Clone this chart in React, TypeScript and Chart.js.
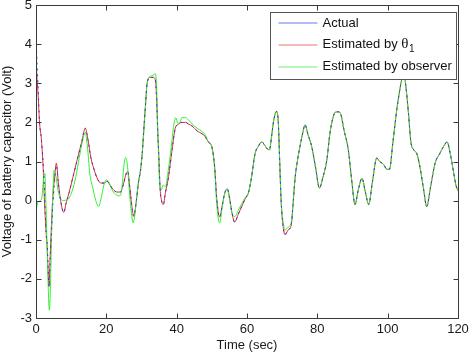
import { useEffect, useRef } from "react";
import { Chart, registerables } from "chart.js";

Chart.register(...registerables);

// ---- data ----
const actualTime = [
  0, 0.3, 0.6, 1.0, 1.5, 2.0, 2.4, 2.7, 3.0, 3.2,
  3.4, 3.7, 4.0, 4.4, 4.8, 5.2, 5.8, 6.3, 7.0, 7.9,
  8.6, 9.4, 10.5, 11.7, 13.0, 14.0, 14.8, 15.6, 16.5, 17.5,
  18.5, 19.5, 20.2, 21.0, 22.0, 23.0, 24.0, 24.8, 25.5, 26.1,
  26.6, 27.2, 27.8, 28.4, 29.2, 29.7, 30.2, 30.6, 31.1, 31.6,
  32.5, 33.3, 33.9, 34.3, 34.6, 34.9, 35.3, 35.7, 36.2, 36.8,
  37.7, 38.7, 39.6, 40.5, 41.5, 42.5, 43.5, 44.5, 45.8, 47.0,
  48.0, 49.0, 50.0, 50.8, 51.4, 52.2, 53.0, 53.7, 54.4, 55.0,
  55.7, 56.5, 57.5, 58.5, 59.5, 60.4, 61.2, 62.3, 63.3, 64.2,
  65.0, 65.8, 66.4, 67.0, 67.6, 68.4, 68.9, 69.3, 69.7, 70.2,
  70.8, 71.7, 72.6, 73.1, 73.7, 74.4, 75.1, 75.9, 76.5, 77.3,
  78.4, 79.5, 80.6, 81.6, 82.7, 83.6, 84.4, 85.1, 86.0, 86.7,
  87.6, 88.8, 89.8, 90.7, 91.7, 92.7, 93.7, 94.6, 95.7, 96.9,
  97.7, 98.8, 99.8, 100.5, 101.5, 102.6, 103.4, 104.0, 104.6, 105.2,
  105.9, 106.6, 107.4, 108.3, 109.2, 110.2, 111.1, 112.2, 113.5, 114.8,
  116.0, 116.9, 117.8, 118.7, 119.4, 120,
];
const actualVolt = [
  4.3, 3.5, 2.9, 2.0, 1.6, 1.0, 0.3, -0.5, -1.0, -1.1,
  -1.6, -2.2, -1.6, -0.8, -0.1, 0.4, 0.9, 0.5, 0.0, -0.3,
  -0.05, 0.2, 0.6, 1.04, 1.5, 1.85, 1.55, 1.1, 0.8, 0.55,
  0.45, 0.45, 0.5, 0.4, 0.28, 0.22, 0.22, 0.4, 0.65, 0.75,
  0.4, -0.1, -0.4, -0.1, 0.5, 0.75, 1.2, 1.75, 2.4, 3.0,
  3.15, 3.15, 3.1, 2.6, 1.8, 1.2, 0.3, 0.0, -0.1, 0.2,
  0.62, 1.3, 1.85, 1.95, 2.0, 2.0, 1.95, 1.9, 1.78, 1.72,
  1.65, 1.5, 1.38, 0.87, 0.05, -0.42, -0.1, 0.2, 0.3, 0.1,
  -0.3, -0.55, -0.35, -0.15, 0.05, 0.2, 0.55, 1.2, 1.4, 1.5,
  1.42, 1.32, 1.3, 1.65, 2.05, 2.28, 2.0, 1.0, 0.0, -0.6,
  -0.87, -0.75, -0.62, -0.1, 0.6, 1.05, 1.4, 1.75, 1.94, 1.7,
  1.38, 0.85, 0.32, 0.6, 1.04, 1.73, 2.1, 2.26, 2.27, 2.2,
  1.8, 1.3, 0.5, -0.1, 0.3, 0.57, 0.2, -0.1, 0.5, 1.09,
  1.0, 0.93, 0.8, 0.8, 1.5, 2.33, 2.8, 3.1, 3.25, 2.9,
  2.25, 1.5, 1.3, 1.2, 0.85, 0.3, -0.15, 0.35, 0.96, 1.2,
  1.4, 1.5, 1.2, 0.75, 0.4, 0.25,
];

// Estimated by theta_1: differs from the actual curve only at the start
const theta1Time = [0, 0.3, 0.6, 1.0, 1.5, 2.0, 2.4, 2.8, 3.2, 3.5, 3.7, 4.0, 4.4, 4.8, 5.3, 5.8];
const theta1Volt = [3.6, 3.1, 2.7, 2.0, 1.6, 0.9, 0.0, -0.7, -1.25, -1.9, -2.2, -1.5, -0.6, 0.1, 0.6, 0.96];

// Estimated by observer: differs until ~73 s, then coincides with actual
const observerTime = [
  0, 0.5, 1.2, 1.7, 2.2, 2.5, 2.8, 3.1, 3.4, 3.8,
  4.1, 4.4, 4.8, 5.2, 5.7, 6.3, 7.0, 7.8, 8.6, 9.3,
  10.3, 11.3, 12.3, 13.3, 14.0, 14.6, 15.3, 16.2, 17.0, 17.8,
  18.5, 19.3, 20.0, 20.8, 21.8, 22.8, 23.8, 24.4, 25.0, 25.5,
  26.0, 26.5, 27.0, 27.6, 28.2, 29.0, 29.7, 30.3, 30.7, 31.2,
  31.6, 32.5, 33.3, 33.9, 34.3, 34.7, 35.1, 35.6, 36.2, 36.8,
  37.5, 38.5, 39.3, 39.8, 40.3, 40.9, 41.5, 42.5, 43.5, 44.5,
  45.8, 47.0, 48.0, 49.0, 50.0, 50.8, 51.4, 52.2, 53.0, 53.7,
  54.4, 55.0, 55.7, 56.5, 57.5, 58.5, 59.5, 60.4, 61.2, 62.3,
  63.3, 64.2, 65.0, 65.8, 66.4, 67.0, 67.6, 68.4, 68.9, 69.3,
  69.7, 70.2, 70.8, 71.7, 72.6, 73.1,
];
const observerVolt = [
  -0.25, -0.05, 0.0, 0.1, 0.6, 0.7, 0.0, -1.0, -2.0, -2.8,
  -2.2, -1.0, 0.2, 0.78, 0.6, 0.25, 0.05, 0.0, 0.02, 0.05,
  0.25, 0.6, 1.1, 1.55, 1.75, 1.4, 0.7, 0.3, 0.0, -0.15,
  0.05, 0.4, 0.53, 0.45, 0.25, 0.15, 0.12, 0.3, 0.9, 1.1,
  0.9, 0.3, -0.2, -0.57, -0.3, 0.4, 0.8, 1.3, 1.8, 2.5,
  3.0, 3.18, 3.2, 3.25, 2.9, 1.6, 0.5, 0.28, 0.4, 0.35,
  0.7, 1.4, 2.0, 2.12, 1.98, 2.0, 2.12, 2.12, 2.05, 1.95,
  1.85, 1.78, 1.7, 1.5, 1.35, 0.8, -0.1, -0.57, -0.15, 0.2,
  0.3, 0.05, -0.3, -0.41, -0.25, -0.08, 0.08, 0.2, 0.55, 1.2,
  1.4, 1.5, 1.42, 1.32, 1.3, 1.65, 2.05, 2.28, 2.0, 1.0,
  0.0, -0.5, -0.75, -0.68, -0.55, -0.05,
];

const xTickValues = [0, 20, 40, 60, 80, 100, 120];
const yTickValues = [-3, -2, -1, 0, 1, 2, 3, 4, 5];
const legendNames = ["Actual", "Estimated by ", "Estimated by observer"];
const seriesColors = ["#2438e8", "#f02a2a", "#2ff02f"];
const legendLineColors = ["#6a78ee", "#f07272", "#6cf06c"];

const FONT = "'Liberation Sans', Arial, Helvetica, sans-serif";

function toPoints(t: number[], v: number[]) {
  const n = Math.min(t.length, v.length);
  const out: { x: number; y: number }[] = [];
  for (let i = 0; i < n; i++) out.push({ x: t[i], y: v[i] });
  return out;
}

const actualPts = toPoints(actualTime, actualVolt);
const theta1Last = theta1Time[theta1Time.length - 1];
const theta1Pts = [...toPoints(theta1Time, theta1Volt), ...actualPts.filter((p) => p.x > theta1Last)];
const observerLast = observerTime[observerTime.length - 1];
const observerPts = [...toPoints(observerTime, observerVolt), ...actualPts.filter((p) => p.x > observerLast)];

const framePlugin = {
  id: "matlabFrame",
  afterDatasetsDraw(chart: any) {
    const { ctx, chartArea: a, scales } = chart;
    ctx.save();
    ctx.setLineDash([]);
    const L = Math.round(a.left) + 0.5;
    const R = Math.round(a.right) + 0.5;
    const T = Math.round(a.top) + 0.5;
    const B = Math.round(a.bottom) + 0.5;
    ctx.strokeStyle = "#3a3a3a";
    ctx.lineWidth = 1;
    ctx.strokeRect(L, T, R - L, B - T);
    ctx.beginPath();
    for (const v of xTickValues) {
      const px = Math.round(scales.x.getPixelForValue(v)) + 0.5;
      ctx.moveTo(px, B);
      ctx.lineTo(px, B - 5);
      ctx.moveTo(px, T);
      ctx.lineTo(px, T + 5);
    }
    for (const v of yTickValues) {
      const py = Math.round(scales.y.getPixelForValue(v)) + 0.5;
      ctx.moveTo(L, py);
      ctx.lineTo(L + 5, py);
      ctx.moveTo(R, py);
      ctx.lineTo(R - 5, py);
    }
    ctx.stroke();

    // legend box (inside, top-right)
    const bx = Math.round(a.right) - 188 + 0.5;
    const by = Math.round(a.top) + 7 + 0.5;
    const bw = 186;
    const bh = 67;
    ctx.fillStyle = "#ffffff";
    ctx.fillRect(bx, by, bw, bh);
    ctx.strokeStyle = "#555555";
    ctx.strokeRect(bx, by, bw, bh);
    const rows = [by + 10.5, by + 32, by + 54];
    ctx.textBaseline = "middle";
    ctx.textAlign = "left";
    for (let i = 0; i < 3; i++) {
      ctx.beginPath();
      ctx.strokeStyle = legendLineColors[i];
      ctx.lineWidth = 1;
      ctx.moveTo(bx + 8, Math.round(rows[i]));
      ctx.lineTo(bx + 47, Math.round(rows[i]));
      ctx.stroke();
      ctx.fillStyle = "#111111";
      ctx.font = `13px ${FONT}`;
      ctx.fillText(legendNames[i], bx + 52, rows[i]);
      if (i === 1) {
        const w = ctx.measureText(legendNames[i]).width;
        ctx.font = `15px 'Liberation Serif', 'DejaVu Serif', serif`;
        ctx.fillText("θ", bx + 52 + w, rows[i]);
        const tw = ctx.measureText("θ").width;
        ctx.font = `10px ${FONT}`;
        ctx.fillText("1", bx + 52 + w + tw + 0.5, rows[i] + 5);
      }
    }
    ctx.restore();
  },
};

export default function App() {
  const canvasRef = useRef<HTMLCanvasElement | null>(null);

  useEffect(() => {
    const canvas = canvasRef.current;
    if (!canvas) return;
    const chart = new Chart(canvas, {
      type: "line",
      data: {
        datasets: [
          {
            label: legendNames[0],
            data: actualPts,
            borderColor: seriesColors[0],
            borderWidth: 1,
            borderDash: [2, 4],
            pointRadius: 0,
            fill: false,
            cubicInterpolationMode: "monotone",
            order: 1,
          },
          {
            label: legendNames[1] + "θ1",
            data: theta1Pts,
            borderColor: seriesColors[1],
            borderWidth: 1,
            pointRadius: 0,
            fill: false,
            cubicInterpolationMode: "monotone",
            order: 3,
          },
          {
            label: legendNames[2],
            data: observerPts,
            borderColor: seriesColors[2],
            borderWidth: 1,
            pointRadius: 0,
            fill: false,
            cubicInterpolationMode: "monotone",
            order: 2,
          },
        ],
      },
      options: {
        animation: false,
        responsive: false,
        devicePixelRatio: 1,
        layout: { padding: { top: 5, right: 16, left: 0, bottom: 0 } },
        plugins: {
          legend: { display: false },
          tooltip: { enabled: false },
        },
        scales: {
          x: {
            type: "linear",
            min: 0,
            max: 120,
            grid: { display: false, drawTicks: false },
            border: { display: false },
            afterBuildTicks: (s: any) => {
              s.ticks = xTickValues.map((v) => ({ value: v }));
            },
            ticks: {
              color: "#1a1a1a",
              font: { family: FONT, size: 13 },
              padding: 4,
              maxRotation: 0,
              autoSkip: false,
            },
            title: {
              display: true,
              text: "Time (sec)",
              color: "#1a1a1a",
              font: { family: FONT, size: 13 },
              padding: { top: 0, bottom: 0 },
            },
            afterFit: (s: any) => {
              s.height = 35;
              s.paddingLeft = 0;
              s.paddingRight = 0;
            },
          },
          y: {
            type: "linear",
            min: -3,
            max: 5,
            grid: { display: false, drawTicks: false },
            border: { display: false },
            afterBuildTicks: (s: any) => {
              s.ticks = yTickValues.map((v) => ({ value: v }));
            },
            ticks: {
              color: "#1a1a1a",
              font: { family: FONT, size: 13 },
              padding: 4,
              autoSkip: false,
            },
            title: {
              display: true,
              text: "Voltage of battery capacitor (Volt)",
              color: "#1a1a1a",
              font: { family: FONT, size: 13 },
              padding: { top: 0, bottom: 0 },
            },
            afterFit: (s: any) => {
              s.width = 36;
              s.paddingTop = 0;
              s.paddingBottom = 0;
            },
          },
        },
      },
      plugins: [framePlugin],
    });
    return () => chart.destroy();
  }, []);

  return (
    <div style={{ position: "absolute", left: 0, top: 0, width: 474, height: 353, background: "#ffffff" }}>
      <canvas ref={canvasRef} width={474} height={353} style={{ display: "block", width: 474, height: 353 }} />
    </div>
  );
}
